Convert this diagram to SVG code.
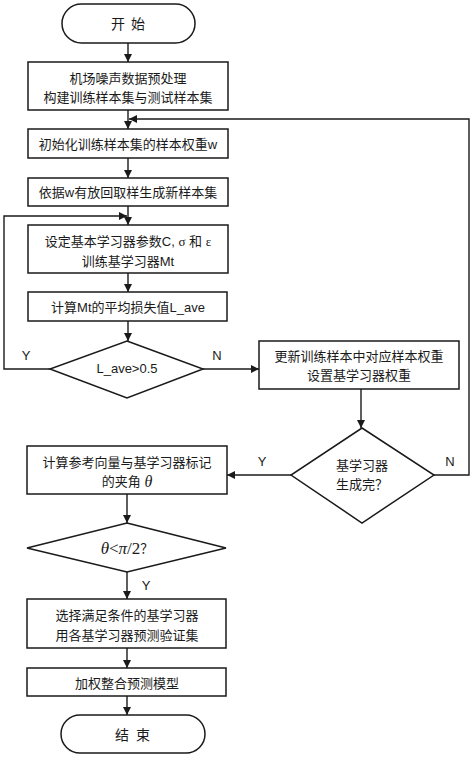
<svg xmlns="http://www.w3.org/2000/svg" width="474" height="758" viewBox="0 0 474 758">
<style>
.s{fill:#fff;stroke:#1a1a1a;stroke-width:1.5}
.c{fill:none;stroke:#1a1a1a;stroke-width:1.4}
.t{font-family:"Liberation Sans","Noto Sans CJK SC",sans-serif;font-size:13px;fill:#1a1a1a;text-anchor:middle;dominant-baseline:central}
.l{font-family:"Liberation Sans",Arial,sans-serif;font-size:13px;fill:#1a1a1a;text-anchor:middle;dominant-baseline:central}
.m{font-family:"Liberation Serif",serif;font-style:italic}
.r{font-family:"Liberation Serif",serif}
</style>
<defs>
<marker id="a" markerWidth="8" markerHeight="8" refX="8" refY="4" orient="auto" markerUnits="userSpaceOnUse">
<path d="M0,0 L8,4 L0,8 Z" fill="#1a1a1a"/>
</marker>
</defs>
<rect width="474" height="758" fill="#fff"/>
<g id="connectors">
<line class="c" x1="128" y1="43" x2="128" y2="62" marker-end="url(#a)"/>
<line class="c" x1="128" y1="110" x2="128" y2="129" marker-end="url(#a)"/>
<line class="c" x1="128" y1="158" x2="128" y2="178" marker-end="url(#a)"/>
<line class="c" x1="128" y1="206" x2="128" y2="225" marker-end="url(#a)"/>
<line class="c" x1="128" y1="273" x2="128" y2="292" marker-end="url(#a)"/>
<line class="c" x1="128" y1="321" x2="128" y2="341" marker-end="url(#a)"/>
<polyline class="c" points="50,369 4,369 4,216 127,216" marker-end="url(#a)"/>
<line class="c" x1="203" y1="369" x2="259" y2="369" marker-end="url(#a)"/>
<line class="c" x1="361" y1="389" x2="361" y2="428" marker-end="url(#a)"/>
<line class="c" x1="291" y1="475" x2="227" y2="475" marker-end="url(#a)"/>
<polyline class="c" points="434,475 469,475 469,119 129,119" marker-end="url(#a)"/>
<line class="c" x1="127" y1="494" x2="127" y2="523" marker-end="url(#a)"/>
<line class="c" x1="127" y1="572" x2="127" y2="599" marker-end="url(#a)"/>
<line class="c" x1="127" y1="648" x2="127" y2="668" marker-end="url(#a)"/>
<line class="c" x1="127" y1="696" x2="127" y2="715" marker-end="url(#a)"/>
<text class="l" x="26" y="355">Y</text>
<text class="l" x="217" y="355">N</text>
<text class="l" x="262" y="461">Y</text>
<text class="l" x="450" y="461">N</text>
<text class="l" x="146" y="585">Y</text>
</g>
<g id="start">
<rect class="s" x="62" y="4" width="133" height="39" rx="19.5"/>
<text class="t" y="24" style="font-size:14px"><tspan x="118">开</tspan><tspan x="138">始</tspan></text>
</g>
<g id="n1">
<rect class="s" x="28" y="62" width="200" height="48"/>
<text class="t" x="128" y="78">机场噪声数据预处理</text>
<text class="t" x="128" y="97">构建训练样本集与测试样本集</text>
</g>
<g id="n2">
<rect class="s" x="28" y="129" width="200" height="29"/>
<text class="t" x="128" y="144">初始化训练样本集的样本权重w</text>
</g>
<g id="n3">
<rect class="s" x="28" y="178" width="200" height="28"/>
<text class="t" x="128" y="192">依据w有放回取样生成新样本集</text>
</g>
<g id="n4">
<rect class="s" x="28" y="225" width="200" height="48"/>
<text class="t" x="128" y="241">设定基本学习器参数C, <tspan class="r">σ</tspan> 和 <tspan class="r">ε</tspan></text>
<text class="t" x="128" y="261">训练基学习器Mt</text>
</g>
<g id="n5">
<rect class="s" x="28" y="292" width="199" height="29"/>
<text class="t" x="128" y="307">计算Mt的平均损失值L_ave</text>
</g>
<g id="d1">
<polygon class="s" points="127,341 203,369 127,398 50,369"/>
<text class="l" x="127" y="368">L_ave&gt;0.5</text>
</g>
<g id="n6">
<rect class="s" x="259" y="341" width="200" height="48"/>
<text class="t" x="359" y="356">更新训练样本中对应样本权重</text>
<text class="t" x="359" y="375">设置基学习器权重</text>
</g>
<g id="d2">
<polygon class="s" points="362,428 434,475 362,523 291,475"/>
<text class="t" x="362" y="465">基学习器</text>
<text class="t" x="362" y="484">生成完？</text>
</g>
<g id="n7">
<rect class="s" x="27" y="446" width="200" height="48"/>
<text class="t" x="127" y="462">计算参考向量与基学习器标记</text>
<text class="t" x="127" y="481">的夹角 <tspan class="m" style="font-size:16px">θ</tspan></text>
</g>
<g id="d3">
<polygon class="s" points="127,523 226,548 127,572 27,548"/>
<text class="t" x="127" y="548" style="font-size:17px"><tspan class="m">θ</tspan><tspan class="r">&lt;</tspan><tspan class="m">π</tspan><tspan class="r">/2</tspan><tspan style="font-size:13px">？</tspan></text>
</g>
<g id="n8">
<rect class="s" x="27" y="599" width="199" height="49"/>
<text class="t" x="127" y="615">选择满足条件的基学习器</text>
<text class="t" x="127" y="635">用各基学习器预测验证集</text>
</g>
<g id="n9">
<rect class="s" x="27" y="668" width="199" height="28"/>
<text class="t" x="127" y="683">加权整合预测模型</text>
</g>
<g id="end">
<rect class="s" x="61" y="715" width="144" height="38" rx="19"/>
<text class="t" y="735" style="font-size:14px"><tspan x="122">结</tspan><tspan x="143">束</tspan></text>
</g>
</svg>
